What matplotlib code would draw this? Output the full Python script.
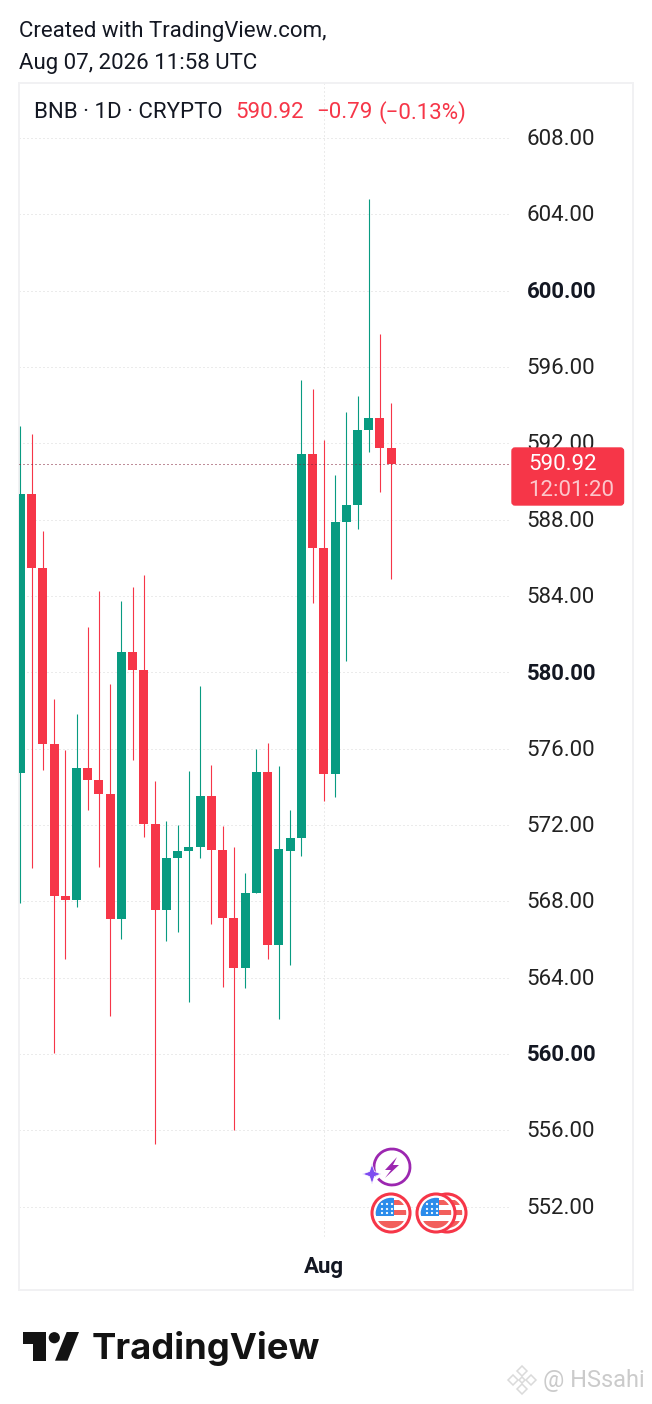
import matplotlib
matplotlib.use("Agg")
import matplotlib.pyplot as plt
from matplotlib.patches import Circle, Polygon, Rectangle, FancyBboxPatch, Arc
from matplotlib.transforms import ScaledTranslation

W, H = 652, 1404
RED = "#F63648"
GREEN = "#089B81"
INK = "#131722"
GRID = "#D8D8D8"

# ---- data: daily candles ending Aug 7 (index 27 = Aug 1)
opens = [574.74, 589.34, 585.44, 576.22, 568.26, 568.08, 574.99, 574.34, 573.60, 567.09,
         581.06, 580.10, 572.03, 567.56, 570.25, 570.62, 570.82, 573.50, 570.67, 567.10,
         564.48, 568.41, 574.78, 565.69, 570.65, 571.30, 591.44, 586.49, 574.65, 587.86,
         588.75, 592.70, 593.33, 591.73]
closes = [589.34, 585.44, 576.22, 568.26, 568.08, 574.99, 574.34, 573.60, 567.09, 581.06,
          580.10, 572.03, 567.56, 570.25, 570.62, 570.82, 573.50, 570.67, 567.10, 564.48,
          568.41, 574.78, 565.69, 570.74, 571.30, 591.44, 586.49, 574.65, 587.86, 588.77,
          592.70, 593.33, 591.73, 590.92]
highs = [592.91, 592.49, 587.40, 578.60, 575.93, 577.82, 582.37, 584.26, 579.39, 583.74,
         584.47, 585.10, 574.30, 572.21, 572.00, 574.83, 579.28, 575.14, 571.95, 570.85,
         569.48, 575.98, 576.30, 575.09, 572.78, 595.32, 594.85, 592.17, 590.34, 593.64,
         594.48, 604.80, 597.73, 594.11]
lows = [567.93, 569.76, 574.88, 560.05, 564.98, 567.72, 572.78, 569.81, 562.01, 566.04,
        575.40, 571.39, 555.30, 565.94, 566.41, 562.74, 570.29, 566.83, 563.53, 556.02,
        563.47, 568.41, 564.99, 561.85, 564.68, 570.39, 583.65, 573.26, 573.48, 580.61,
        587.53, 591.56, 589.46, 584.91]
day_index = list(range(len(opens)))
price_ticks = [552, 556, 560, 564, 568, 572, 576, 580, 584, 588, 592, 596, 600, 604, 608]
bold_ticks = [560, 580, 600]
month_tick = 27
month_label = "Aug"
last_price = 590.92
countdown = "12:01:20"

plt.rcParams["font.family"] = ["Roboto", "DejaVu Sans"]
fig = plt.figure(figsize=(W / 100, H / 100), dpi=100, facecolor="white")

L, R, T, B = 19, 633, 83, 1290
ax = fig.add_axes([L / W, 1 - B / H, (R - L) / W, (B - T) / H])
ax.set_xlim(-0.1157, 54.51)
ax.set_ylim(547.63, 610.88)
for s in ax.spines.values():
    s.set_color("#F1F1F3")
    s.set_linewidth(1.4)

frac_end = (508 - L) / (R - L)
dot = (0, (1, 3))
g1 = ax.hlines(price_ticks, 0, frac_end, transform=ax.get_yaxis_transform(),
               colors=GRID, linewidth=0.72, linestyles=[dot], zorder=1)
g2 = ax.vlines([month_tick], (B - 1236) / (B - T), 1, transform=ax.get_xaxis_transform(),
               colors=GRID, linewidth=0.72, linestyles=[dot], zorder=1)

colors = [GREEN if c >= o else RED for o, c in zip(opens, closes)]
wicks = ax.vlines(day_index, lows, highs, colors=colors, linewidth=0.8, zorder=3)
ax.bar(day_index, [abs(c - o) for o, c in zip(opens, closes)],
       bottom=[min(o, c) for o, c in zip(opens, closes)],
       width=0.8, color=colors, linewidth=0, zorder=3)
g3 = ax.hlines([last_price + 0.02], 0, frac_end, transform=ax.get_yaxis_transform(),
               colors="#7E1C34", linewidth=0.72, linestyles=[dot], zorder=4)
for c in (g1, g2, g3, wicks):
    c.set_snap(True)

ax.yaxis.tick_right()
ax.set_yticks(price_ticks)
ax.set_yticklabels([f"{p:.2f}" for p in price_ticks])
ax.tick_params(axis="y", length=0, pad=-76.5, labelsize=16, labelcolor="#222222")
up_one_px = ScaledTranslation(0, 1 / 100, fig.dpi_scale_trans)
for lab, p in zip(ax.get_yticklabels(), price_ticks):
    lab.set_ha("left")
    lab.set_va("center_baseline")
    lab.set_transform(lab.get_transform() + up_one_px)
    if p in bold_ticks:
        lab.set_fontweight("bold")
        lab.set_color(INK)
ax.set_xticks([month_tick])
ax.set_xticklabels([month_label], fontweight="bold", color=INK)
ax.tick_params(axis="x", length=0, pad=-24.5, labelsize=16)

# overlay in pixel coordinates for page furniture
ov = fig.add_axes([0, 0, 1, 1], zorder=10)
ov.set_xlim(0, W)
ov.set_ylim(H, 0)
ov.axis("off")
ov.patch.set_alpha(0)

ov.text(19, 31, "Created with TradingView.com,", fontsize=16, color=INK, va="center")
ov.text(19, 63, "Aug 07, 2026 11:58 UTC", fontsize=16, color=INK, va="center")
ov.text(34, 113, "BNB · 1D · CRYPTO", fontsize=16, color=INK, va="center")
ov.text(235, 113, "590.92", fontsize=16, color=RED, va="center")
ov.text(316, 113, "−0.79", fontsize=16, color=RED, va="center")
ov.text(378, 113, "(−0.13%)", fontsize=16, color=RED, va="center")

ov.add_patch(FancyBboxPatch((512, 448), 111.5, 57, boxstyle="round,pad=0,rounding_size=3",
                            fc=RED, ec=RED, lw=1))
ov.text(528, 464, f"{last_price:.2f}", fontsize=16, color="white", va="center")
ov.text(528, 490, countdown, fontsize=16, color="white", alpha=0.72, va="center")

# TradingView logo
LOGO = "#131313"
ov.add_patch(Polygon([(22.7, 1332), (45.7, 1332), (45.7, 1360.7), (33.3, 1360.7), (33.3, 1344), (22.7, 1344)],
                     closed=True, fc=LOGO, ec="none"))
ov.add_patch(Circle((54.3, 1337.7), 5.6, fc=LOGO, ec="none"))
ov.add_patch(Polygon([(66.7, 1332), (79, 1332), (67.5, 1360.7), (55, 1360.7)], closed=True, fc=LOGO, ec="none"))
ov.text(92, 1349, "TradingView", fontsize=26.2, fontweight="bold", family=["Inter", "DejaVu Sans"],
        color=LOGO, va="center")

# watermark
ov.text(543, 1380, "@ HSsahi", fontsize=17, color="#CBCBCB", va="center")
for dx, dy, s in [(0, -9, 5), (-9, 0, 5), (9, 0, 5), (0, 9, 5), (0, 0, 3)]:
    cx, cy = 522 + dx, 1380 + dy
    ov.add_patch(Polygon([(cx, cy - s), (cx + s, cy), (cx, cy + s), (cx - s, cy)], closed=True,
                         fc="none", ec="#DADADA", lw=1.1))

# event icons
PURPLE = "#9C27B0"
ov.add_patch(Arc((392, 1167), 36, 36, theta1=150, theta2=500, ec=PURPLE, lw=2.0))
ov.add_patch(Polygon([(397, 1157), (385, 1170), (391, 1170), (385, 1178), (399, 1165), (393, 1165)],
                     closed=True, fc=PURPLE, ec="none"))
star = [(372, 1164), (374.5, 1171.5), (381, 1174), (374.5, 1176.5), (372, 1184),
        (369.5, 1176.5), (362.5, 1174), (369.5, 1171.5)]
ov.add_patch(Polygon(star, closed=True, fc="#7E4CF0", ec="white", lw=0.5))


def flag(cx, cy, z):
    ov.add_patch(Circle((cx, cy), 20, fc="white", ec="none", zorder=z))
    clip = Circle((cx, cy), 15.2, transform=ov.transData)
    for y0, h, c in [(-16, 32, "white"), (-13, 5, "#F25F5C"), (-3, 5, "#F25F5C"), (8, 8, "#F25F5C")]:
        r = Rectangle((cx - 16, cy + y0), 32, h, fc=c, ec="none", zorder=z)
        ov.add_patch(r)
        r.set_clip_path(clip)
    r = Rectangle((cx - 16, cy - 16), 19, 19, fc="#2B8CEB", ec="none", zorder=z)
    ov.add_patch(r)
    r.set_clip_path(clip)
    for sx in (-9, -4, 1):
        for sy in (-9, -4, 0):
            ov.add_patch(Circle((cx + sx, cy + sy), 1.1, fc="white", ec="none", zorder=z))
    ov.add_patch(Circle((cx, cy), 19, fc="none", ec=RED, lw=2.2, zorder=z))


flag(447, 1213, 6)
flag(436, 1213, 7)
flag(391, 1213, 7)

fig.savefig("out.png", dpi=100)
